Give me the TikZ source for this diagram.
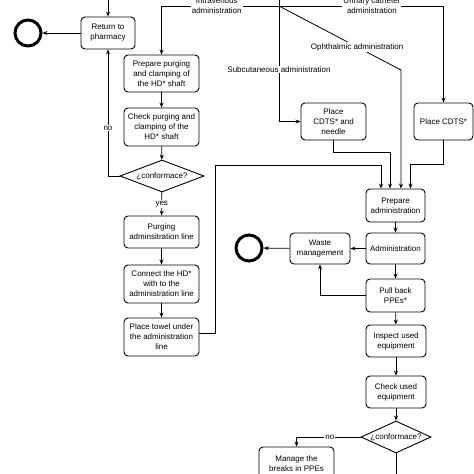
\documentclass[tikz,border=0pt]{standalone}
\usepackage{fontspec}
\setmainfont{Liberation Sans}
\usetikzlibrary{arrows.meta}
\usetikzlibrary{shapes}
\usetikzlibrary{calc}

\begin{document}
\begin{tikzpicture}[x=1pt,y=-1pt,>={Stealth[length=5pt,width=4pt]},
      every node/.style={font=\fontsize{8}{10}\selectfont},
      actbox/.style={draw,rounded corners=4pt,line width=0.9pt,align=center,inner sep=1pt},
      decision/.style={draw,diamond,line width=0.9pt,inner sep=0pt,aspect=2.6,minimum height=32pt},
      endevent/.style={draw,circle,line width=3pt,minimum size=26pt},
      lbl/.style={fill=white,inner sep=1pt,align=center},
      flow/.style={->,line width=0.8pt}]
      \useasboundingbox (0,0) rectangle (474,474);
      \clip (0,0) rectangle (474,474);

      % left column
      \node[endevent] (endA) at (28,33) {};
      \node[actbox,minimum width=54pt,minimum height=32pt] (ret) at (108,33) {Return to\\pharmacy};
      \node[actbox,minimum width=75pt,minimum height=37pt] (prep) at (161.5,73.5) {Prepare purging\\and clamping of\\the HD* shaft};
      \node[actbox,minimum width=75pt,minimum height=38pt] (chk) at (161.5,127) {Check purging and\\clamping of the\\HD* shaft};
      \node[decision,minimum width=84pt] (dec1) at (162,176) {¿conformace?};
      \node[actbox,minimum width=75pt,minimum height=32pt] (purg) at (161.5,232) {Purging\\adminsitration line};
      \node[actbox,minimum width=75pt,minimum height=38pt] (conn) at (161.5,284) {Connect the HD*\\with to the\\administration line};
      \node[actbox,minimum width=75pt,minimum height=38pt] (towel) at (161.5,337) {Place towel under\\the administration\\line};

      % right column
      \node[actbox,minimum width=65pt,minimum height=37pt] (cdtsn) at (333.5,121.5) {Place\\CDTS* and\\needle};
      \node[actbox,minimum width=59pt,minimum height=37pt] (cdts) at (443.5,121.5) {Place CDTS*};
      \node[actbox,minimum width=59pt,minimum height=33pt] (prepadm) at (395.5,205.5) {Prepare\\administration};
      \node[actbox,minimum width=59pt,minimum height=31pt] (admin) at (395.5,248.5) {Administration};
      \node[actbox,minimum width=60pt,minimum height=31pt] (waste) at (320,248.5) {Waste\\management};
      \node[endevent] (endB) at (249,248) {};
      \node[actbox,minimum width=59pt,minimum height=33pt] (pull) at (395.5,295.5) {Pull back\\PPEs*};
      \node[actbox,minimum width=60pt,minimum height=32pt] (insp) at (396,341) {Inspect used\\equipment};
      \node[actbox,minimum width=60pt,minimum height=32pt] (chku) at (396,392) {Check used\\equipment};
      \node[decision,minimum width=70pt] (dec2) at (396,437) {¿conformace?};
      \node[actbox,minimum width=75pt,minimum height=33pt] (manage) at (296.5,463.5) {Manage the\\breaks in PPEs};

      \coordinate (retin) at (108,-5);
      \coordinate (topin) at (279,-5);
      \coordinate (split) at (279,6);
      \coordinate (ophk) at (401,70);

      % routes from the top
      \draw[flow] (retin) -- (ret);
      \draw[line width=0.8pt] (topin) -- (split);
      \draw[flow] (split) -- node[lbl,pos=0.53]{Intravenous\\administration} (split -| prep) -- (prep);
      \draw[flow] (split) -- node[lbl,pos=0.565]{Urinary catheter\\administration} (split -| cdts) -- (cdts);
      \draw[flow] (split) -- node[lbl,pos=0.55]{Subcutaneous administration} (split |- cdtsn) -- (cdtsn);
      \draw[flow] (split) -- node[lbl,pos=0.64]{Ophthalmic administration} (ophk) -- (ophk |- prepadm.north);

      \draw[flow] (ret) -- (endA);
      \draw[flow] (prep) -- (chk);
      \draw[flow] (chk) -- (dec1);
      \draw[flow] (dec1) -- node[lbl]{yes} (purg);
      \draw[flow] (dec1.west) -| node[lbl,pos=0.69]{no} (ret);
      \draw[flow] (purg) -- (conn);
      \draw[flow] (conn) -- (towel);

      % into prepare administration
      \draw[flow] ([yshift=4pt]towel.east) -- ++(16,0) -- ++(0,-168) -| ([xshift=-14.5pt]prepadm.north);
      \draw[flow] (cdtsn.south) -- ++(0,12) -| ([xshift=-5.5pt]prepadm.north);
      \draw[flow] (cdts.south) -- ++(0,24) -| ([xshift=15pt]prepadm.north);

      \draw[flow] (prepadm) -- (admin);
      \draw[flow] (admin) -- (waste);
      \draw[flow] (waste) -- (endB);
      \draw[flow] (admin) -- (pull);
      \draw[flow] (pull.west) -| (waste);
      \draw[flow] (pull) -- (insp);
      \draw[flow] (insp) -- (chku);
      \draw[flow] (chku) -- (dec2);
      \draw[flow] (dec2.west) -| node[lbl,pos=0.24]{no} (manage);
      \draw[line width=0.8pt] (dec2.south) -- ++(0,30);
\end{tikzpicture}
\end{document}
